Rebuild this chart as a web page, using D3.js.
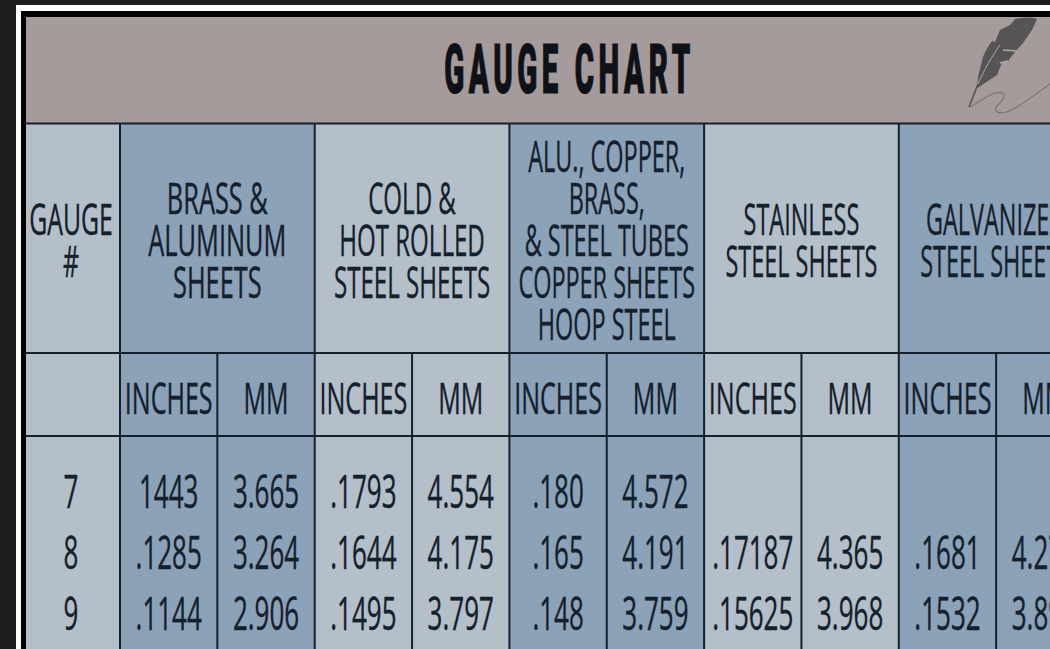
<!DOCTYPE html>
<html><head><meta charset="utf-8">
<script src="https://cdn.jsdelivr.net/npm/d3@7/dist/d3.min.js"></script>
<style>html,body{margin:0;padding:0;background:#1e1e1e;overflow:hidden}svg{display:block}</style>
</head><body><div id="chart"></div>
<script>
const title = "GAUGE CHART";
const gaugeHeader = ["GAUGE", "#"];
const groupLabels = [
  ["BRASS &", "ALUMINUM", "SHEETS"],
  ["COLD &", "HOT ROLLED", "STEEL SHEETS"],
  ["ALU., COPPER,", "BRASS,", "& STEEL TUBES", "COPPER SHEETS", "HOOP STEEL"],
  ["STAINLESS", "STEEL SHEETS"],
  ["GALVANIZED", "STEEL SHEETS"]
];
const subLabels = ["INCHES", "MM"];
const gauges = ["7", "8", "9"];
const brassIn = ["1443", ".1285", ".1144"];
const brassMm = ["3.665", "3.264", "2.906"];
const coldIn = [".1793", ".1644", ".1495"];
const coldMm = ["4.554", "4.175", "3.797"];
const aluIn = [".180", ".165", ".148"];
const aluMm = ["4.572", "4.191", "3.759"];
const stainIn = ["", ".17187", ".15625"];
const stainMm = ["", "4.365", "3.968"];
const galvIn = ["", ".1681", ".1532"];
const galvMm = ["", "4.270", "3.891"];
const valueColumns = [brassIn, brassMm, coldIn, coldMm, aluIn, aluMm, stainIn, stainMm, galvIn, galvMm];

const W = 1050, H = 649;
const dark = "#14202c", light = "#b4bfca", blue = "#8ba2b9", head = "#a59b9a";
const svg = d3.select("#chart").append("svg").attr("width", W).attr("height", H);

svg.append("rect").attr("x", 16).attr("y", 5).attr("width", W).attr("height", H).attr("fill", "#fff");
svg.append("rect").attr("x", 21).attr("y", 11).attr("width", W).attr("height", H).attr("fill", "#000");

const x = d3.scaleLinear().domain([0, 10]).range([120, 1093.5]);
const rowY = d3.scalePoint().domain(gauges).range([491.5, 613.5]);
const yTop = 17, yHead = 123.5, yGroup = 353, ySub = 436;

const plot = svg.append("g");
plot.append("rect").attr("x", 26).attr("y", yTop).attr("width", W).attr("height", yHead - yTop).attr("fill", head);
plot.append("rect").attr("x", 26).attr("y", yHead).attr("width", W).attr("height", H).attr("fill", light);

plot.selectAll("rect.band").data(groupLabels).join("rect").attr("class", "band")
  .attr("x", (d, i) => x(i * 2)).attr("y", yHead)
  .attr("width", x(2) - x(0)).attr("height", H)
  .attr("fill", (d, i) => i % 2 === 0 ? blue : light);

const hRules = [yHead, yGroup, ySub];
plot.selectAll("line.h").data(hRules).join("line").attr("class", "h")
  .attr("x1", 26).attr("x2", W).attr("y1", d => d).attr("y2", d => d)
  .attr("stroke", dark).attr("stroke-width", 2);
const allCols = d3.range(0, 11);
plot.selectAll("line.v").data(allCols).join("line").attr("class", "v")
  .attr("x1", d => x(d)).attr("x2", d => x(d))
  .attr("y1", d => d % 2 === 0 ? yHead : yGroup).attr("y2", H)
  .attr("stroke", dark).attr("stroke-width", 2);

function label(t, cx, cy, opt = {}) {
  const sx = opt.sx || 0.565, size = opt.size || 46;
  const n = plot.append("text")
    .attr("transform", `translate(${cx},${cy}) scale(${sx},1)`)
    .attr("text-anchor", "middle").attr("dy", "0.357em")
    .attr("font-family", opt.family || "'Open Sans'")
    .attr("font-weight", opt.weight || 400)
    .attr("font-size", size)
    .attr("letter-spacing", opt.ls || 0)
    .attr("fill", opt.fill || dark).text(t);
  n.attr("stroke", opt.fill || dark).attr("stroke-width", opt.stroke || 0.4);
}

label(title, 569.5, 68.5, {size: 68, weight: 900, sx: 0.433, ls: 10.5, family: "Roboto", fill: "#0e1218", stroke: 1.2});

gaugeHeader.forEach((t, i) => label(t, 71, 220 + i * 42, {sx: 0.577, size: 43}));

const groupSx = [0.59, 0.56, 0.545, 0.545, 0.545];
const groupMid = 241, lineGap = 42;
groupLabels.forEach((lines, g) => {
  const cx = x(g * 2 + 1);
  const start = groupMid - (lines.length - 1) * lineGap / 2;
  lines.forEach((t, i) => label(t, cx, start + i * lineGap, {sx: groupSx[g], size: 43}));
});

d3.range(10).forEach(c => label(subLabels[c % 2], x(c + 0.5), 398, {sx: 0.57, size: 44}));

gauges.forEach(g => label(g, 71, rowY(g)));
valueColumns.forEach((col, c) => {
  col.forEach((v, r) => { if (v) label(v, x(c + 0.5), rowY(gauges[r])); });
});

// feather ornament
const orn = plot.append("g");
orn.append("path").attr("fill", "#565454")
  .attr("d", "M1037,19 C1030,17 1022,18 1015,19 L1012,23 L1010,25 L1000,30 L995,42 L992,41 C987,48 984,54 983,57 L978,77 L977,88 L979,87 L997,75 L1002,63 L1008,61 L1015,52 L1023,43 L1032,30 Z");
orn.append("path").attr("fill", "none").attr("stroke", "#b0abab").attr("stroke-width", 1)
  .attr("d", "M978,84 C984,70 992,56 1000,45");
orn.append("path").attr("fill", "none").attr("stroke", "#b0abab").attr("stroke-width", 1.6)
  .attr("d", "M1003,50 L1017,51 M1000,63 L1008,61");
orn.append("path").attr("fill", "none").attr("stroke", "#565454").attr("stroke-width", 1.6)
  .attr("d", "M969,107 L978,84");
orn.append("path").attr("fill", "none").attr("stroke", "#7a7474").attr("stroke-width", 1.2)
  .attr("d", "M970,107 C976,104 986,96 995,93 C1002,91 1006,94 1003,99 C1000,104 993,108 996,111 C1000,115 1010,111 1017,107 C1028,100 1040,91 1050,84");
</script></body></html>
